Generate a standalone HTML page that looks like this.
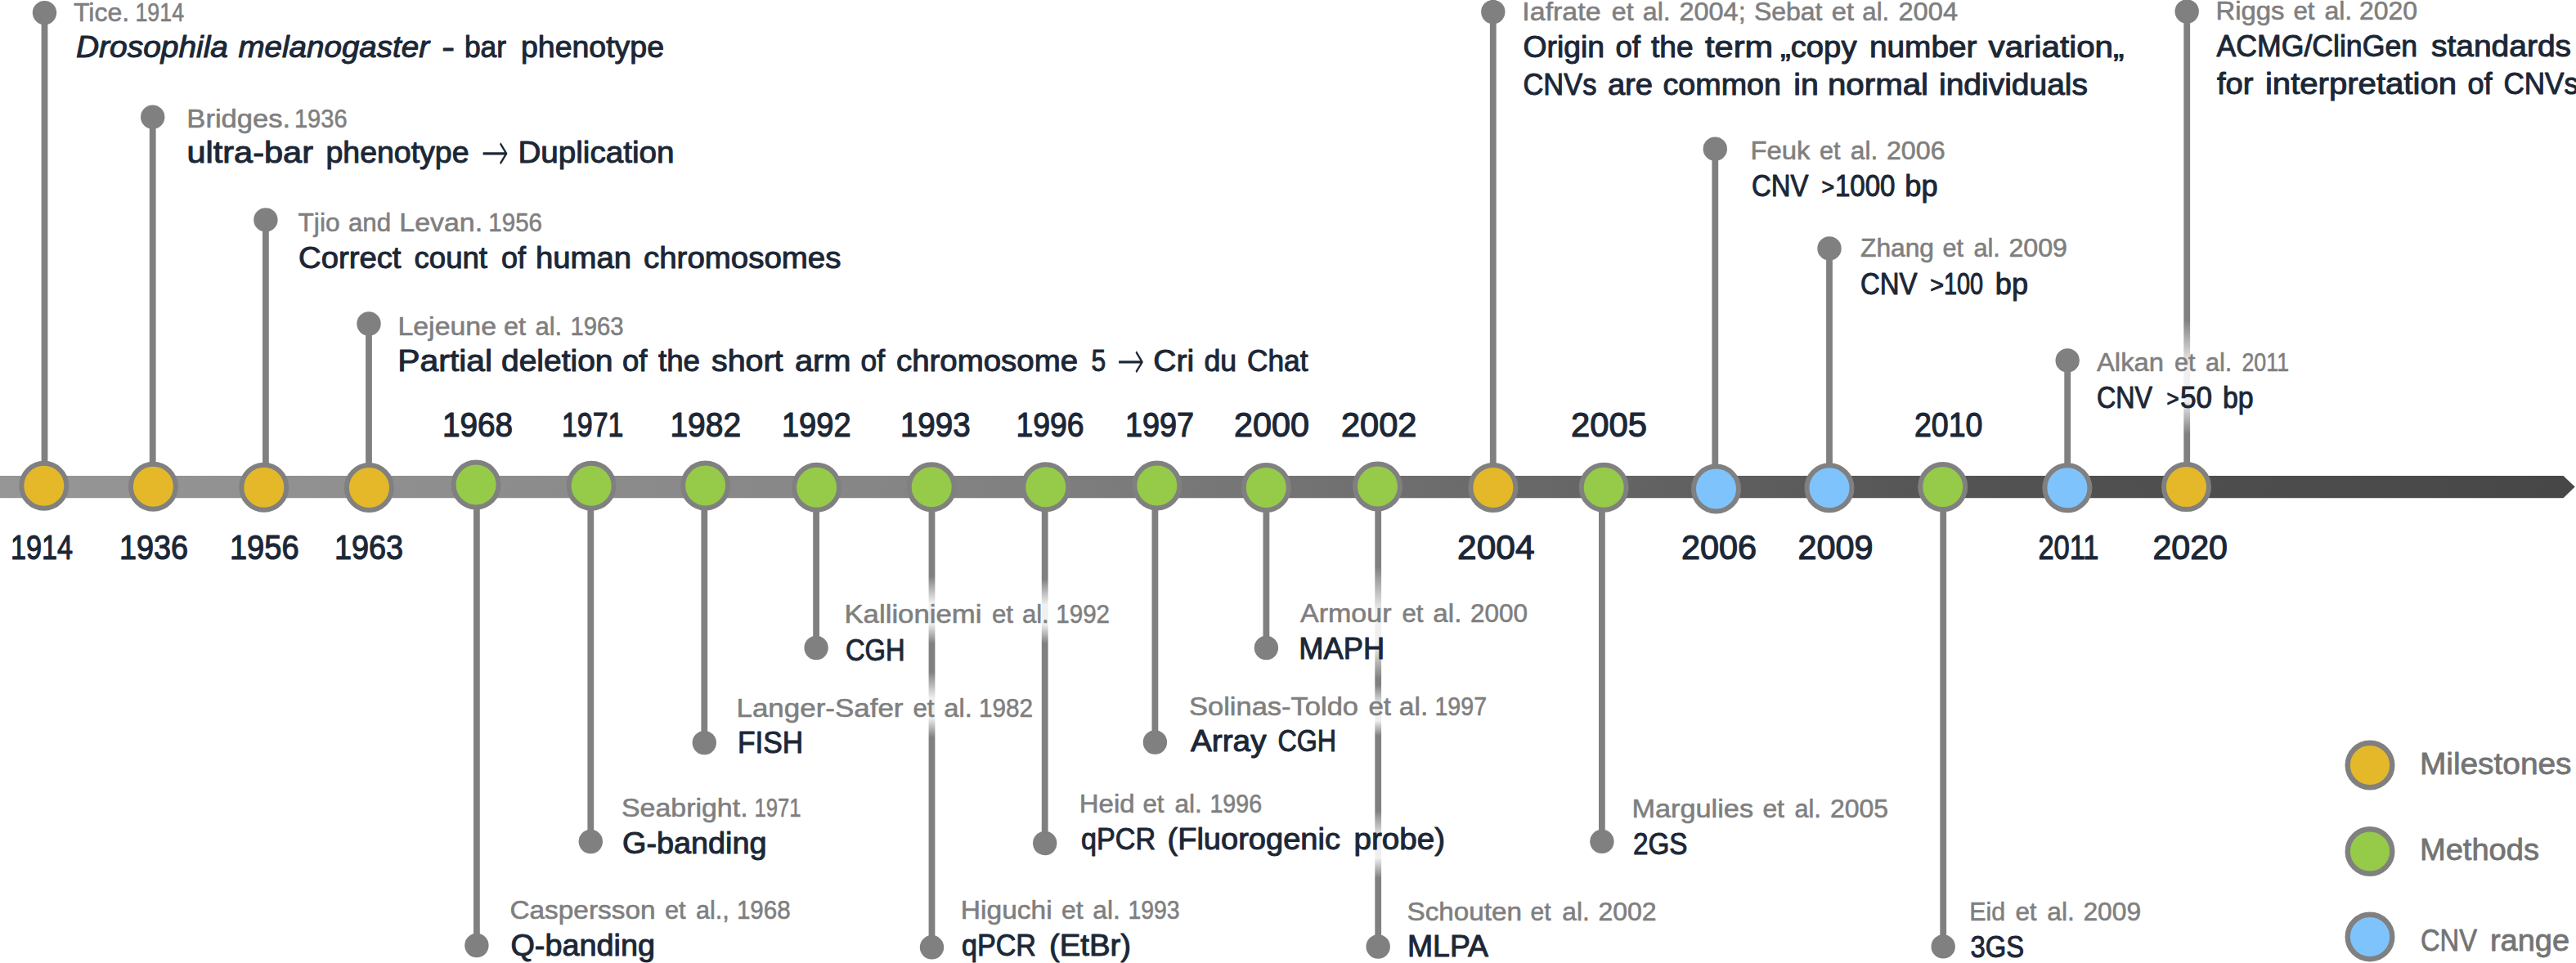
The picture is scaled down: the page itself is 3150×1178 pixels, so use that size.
<!DOCTYPE html>
<html lang="en"><head><meta charset="utf-8"><title>History of CNV research timeline</title>
<style>html,body{margin:0;padding:0;background:#fff;}body{width:3150px;height:1178px;overflow:hidden;}svg{display:block;}text{font-family:"Liberation Sans",sans-serif;}</style>
</head><body>
<svg width="3150" height="1178" viewBox="0 0 3150 1178">
<defs>
<linearGradient id="bar" gradientUnits="userSpaceOnUse" x1="0" y1="0" x2="3150" y2="0"><stop offset="0" stop-color="#969696"/><stop offset="0.34" stop-color="#868686"/><stop offset="0.47" stop-color="#777777"/><stop offset="0.603" stop-color="#676767"/><stop offset="0.778" stop-color="#525252"/><stop offset="0.975" stop-color="#484848"/><stop offset="1" stop-color="#474747"/></linearGradient>
<linearGradient id="fade" x1="0" y1="0" x2="0" y2="1"><stop offset="0" stop-color="#fff" stop-opacity="0"/><stop offset="0.4" stop-color="#fff" stop-opacity="0.88"/><stop offset="0.7" stop-color="#fff" stop-opacity="0.88"/><stop offset="1" stop-color="#fff" stop-opacity="0"/></linearGradient>
</defs>
<rect width="3150" height="1178" fill="#ffffff"/>
<path d="M0 582 H3134.5 L3148.7 595.5 L3134.5 609.2 H0 Z" fill="url(#bar)"/>
<g stroke="#808080" stroke-width="7.8" fill="none">
<line x1="54.5" y1="15.6" x2="54.5" y2="594.3"/>
<line x1="186.7" y1="143.2" x2="186.7" y2="595.2"/>
<line x1="324.9" y1="268.9" x2="324.9" y2="596.2"/>
<line x1="451" y1="396" x2="451" y2="596.5"/>
<line x1="1825.8" y1="14.5" x2="1825.8" y2="596.4"/>
<line x1="2097.3" y1="182.2" x2="2097.3" y2="598"/>
<line x1="2237" y1="303.9" x2="2237" y2="596.8"/>
<line x1="2528.2" y1="440.9" x2="2528.2" y2="596.8"/>
<line x1="2674.2" y1="14" x2="2674.2" y2="595.6"/>
<line x1="582.9" y1="1156.5" x2="582.9" y2="593"/>
<line x1="722.3" y1="1029.5" x2="722.3" y2="594.2"/>
<line x1="861.3" y1="908.6" x2="861.3" y2="594"/>
<line x1="998.1" y1="792.5" x2="998.1" y2="596.2"/>
<line x1="1139.5" y1="1158.8" x2="1139.5" y2="595.8"/>
<line x1="1277.7" y1="1031.5" x2="1277.7" y2="595.8"/>
<line x1="1412.4" y1="908" x2="1412.4" y2="594"/>
<line x1="1548.4" y1="792.5" x2="1548.4" y2="596.4"/>
<line x1="1685.2" y1="1158" x2="1685.2" y2="595"/>
<line x1="1958.9" y1="1029.4" x2="1958.9" y2="596.2"/>
<line x1="2376.2" y1="1157.9" x2="2376.2" y2="595.6"/>
</g>
<rect x="1133.4" y="705" width="12" height="82" fill="url(#fade)"/>
<rect x="1133.4" y="822" width="12" height="80" fill="url(#fade)"/>
<rect x="1271.8" y="708" width="12" height="79" fill="url(#fade)"/>
<rect x="1679.3" y="693" width="12" height="137" fill="url(#fade)"/>
<rect x="1679.3" y="838" width="12" height="62" fill="url(#fade)"/>
<rect x="1679.3" y="992" width="12" height="82" fill="url(#fade)"/>
<rect x="2668.1" y="391" width="12" height="140" fill="url(#fade)"/>
<g fill="#808080">
<circle cx="54.5" cy="15.6" r="14.7"/>
<circle cx="186.7" cy="143.2" r="14.7"/>
<circle cx="324.9" cy="268.9" r="14.7"/>
<circle cx="451" cy="396" r="14.7"/>
<circle cx="1825.8" cy="14.5" r="14.7"/>
<circle cx="2097.3" cy="182.2" r="14.7"/>
<circle cx="2237" cy="303.9" r="14.7"/>
<circle cx="2528.2" cy="440.9" r="14.7"/>
<circle cx="2674.2" cy="14" r="14.7"/>
<circle cx="582.9" cy="1156.5" r="14.7"/>
<circle cx="722.3" cy="1029.5" r="14.7"/>
<circle cx="861.3" cy="908.6" r="14.7"/>
<circle cx="998.1" cy="792.5" r="14.7"/>
<circle cx="1139.5" cy="1158.8" r="14.7"/>
<circle cx="1277.7" cy="1031.5" r="14.7"/>
<circle cx="1412.4" cy="908" r="14.7"/>
<circle cx="1548.4" cy="792.5" r="14.7"/>
<circle cx="1685.2" cy="1158" r="14.7"/>
<circle cx="1958.9" cy="1029.4" r="14.7"/>
<circle cx="2376.2" cy="1157.9" r="14.7"/>
</g>
<circle cx="53.8" cy="594.3" r="27.5" fill="#e5b829" stroke="#808080" stroke-width="6"/>
<circle cx="187.4" cy="595.2" r="27.5" fill="#e5b829" stroke="#808080" stroke-width="6"/>
<circle cx="322.8" cy="596.2" r="27.5" fill="#e5b829" stroke="#808080" stroke-width="6"/>
<circle cx="451.4" cy="596.5" r="27.5" fill="#e5b829" stroke="#808080" stroke-width="6"/>
<circle cx="1825.9" cy="596.4" r="27.5" fill="#e5b829" stroke="#808080" stroke-width="6"/>
<circle cx="2098.5" cy="598" r="27.5" fill="#7fc3fc" stroke="#808080" stroke-width="6"/>
<circle cx="2237" cy="596.8" r="27.5" fill="#7fc3fc" stroke="#808080" stroke-width="6"/>
<circle cx="2527.9" cy="596.8" r="27.5" fill="#7fc3fc" stroke="#808080" stroke-width="6"/>
<circle cx="2673.5" cy="595.6" r="27.5" fill="#e5b829" stroke="#808080" stroke-width="6"/>
<circle cx="582.1" cy="593" r="27.5" fill="#96ca49" stroke="#808080" stroke-width="6"/>
<circle cx="723.1" cy="594.2" r="27.5" fill="#96ca49" stroke="#808080" stroke-width="6"/>
<circle cx="862.6" cy="594" r="27.5" fill="#96ca49" stroke="#808080" stroke-width="6"/>
<circle cx="998.6" cy="596.2" r="27.5" fill="#96ca49" stroke="#808080" stroke-width="6"/>
<circle cx="1139.2" cy="595.8" r="27.5" fill="#96ca49" stroke="#808080" stroke-width="6"/>
<circle cx="1278.8" cy="595.8" r="27.5" fill="#96ca49" stroke="#808080" stroke-width="6"/>
<circle cx="1414.8" cy="594" r="27.5" fill="#96ca49" stroke="#808080" stroke-width="6"/>
<circle cx="1548.3" cy="596.4" r="27.5" fill="#96ca49" stroke="#808080" stroke-width="6"/>
<circle cx="1684.5" cy="595" r="27.5" fill="#96ca49" stroke="#808080" stroke-width="6"/>
<circle cx="1961.2" cy="596.2" r="27.5" fill="#96ca49" stroke="#808080" stroke-width="6"/>
<circle cx="2375.7" cy="595.6" r="27.5" fill="#96ca49" stroke="#808080" stroke-width="6"/>
<circle cx="2898" cy="936" r="27.3" fill="#e5b829" stroke="#808080" stroke-width="6.4"/>
<circle cx="2898" cy="1041.5" r="27.3" fill="#96ca49" stroke="#808080" stroke-width="6.4"/>
<circle cx="2898" cy="1146" r="27.3" fill="#7fc3fc" stroke="#808080" stroke-width="6.4"/>
<text y="684.3" font-size="42.32" fill="#1c2736" stroke="#1c2736" stroke-width="1.2" stroke-linejoin="round"><tspan x="12.95" textLength="76.08" lengthAdjust="spacingAndGlyphs">1914</tspan></text>
<text y="684.3" font-size="42.32" fill="#1c2736" stroke="#1c2736" stroke-width="1.2" stroke-linejoin="round"><tspan x="145.92" textLength="84.12" lengthAdjust="spacingAndGlyphs">1936</tspan></text>
<text y="684.3" font-size="42.32" fill="#1c2736" stroke="#1c2736" stroke-width="1.2" stroke-linejoin="round"><tspan x="280.92" textLength="84.64" lengthAdjust="spacingAndGlyphs">1956</tspan></text>
<text y="684.3" font-size="42.32" fill="#1c2736" stroke="#1c2736" stroke-width="1.2" stroke-linejoin="round"><tspan x="408.92" textLength="84.12" lengthAdjust="spacingAndGlyphs">1963</tspan></text>
<text y="533.8" font-size="42.32" fill="#1c2736" stroke="#1c2736" stroke-width="1.2" stroke-linejoin="round"><tspan x="540.89" textLength="86.17" lengthAdjust="spacingAndGlyphs">1968</tspan></text>
<text y="533.8" font-size="42.32" fill="#1c2736" stroke="#1c2736" stroke-width="1.2" stroke-linejoin="round"><tspan x="686.92" textLength="75.61" lengthAdjust="spacingAndGlyphs">1971</tspan></text>
<text y="533.8" font-size="42.32" fill="#1c2736" stroke="#1c2736" stroke-width="1.2" stroke-linejoin="round"><tspan x="819.41" textLength="86.64" lengthAdjust="spacingAndGlyphs">1982</tspan></text>
<text y="533.8" font-size="42.32" fill="#1c2736" stroke="#1c2736" stroke-width="1.2" stroke-linejoin="round"><tspan x="955.94" textLength="84.65" lengthAdjust="spacingAndGlyphs">1992</tspan></text>
<text y="533.8" font-size="42.32" fill="#1c2736" stroke="#1c2736" stroke-width="1.2" stroke-linejoin="round"><tspan x="1100.88" textLength="85.7" lengthAdjust="spacingAndGlyphs">1993</tspan></text>
<text y="533.8" font-size="42.32" fill="#1c2736" stroke="#1c2736" stroke-width="1.2" stroke-linejoin="round"><tspan x="1242.4" textLength="83.12" lengthAdjust="spacingAndGlyphs">1996</tspan></text>
<text y="533.8" font-size="42.32" fill="#1c2736" stroke="#1c2736" stroke-width="1.2" stroke-linejoin="round"><tspan x="1375.91" textLength="84.16" lengthAdjust="spacingAndGlyphs">1997</tspan></text>
<text y="533.8" font-size="42.32" fill="#1c2736" stroke="#1c2736" stroke-width="1.2" stroke-linejoin="round"><tspan x="1508.98" textLength="92.06" lengthAdjust="spacingAndGlyphs">2000</tspan></text>
<text y="533.8" font-size="42.32" fill="#1c2736" stroke="#1c2736" stroke-width="1.2" stroke-linejoin="round"><tspan x="1639.98" textLength="92.55" lengthAdjust="spacingAndGlyphs">2002</tspan></text>
<text y="684.1" font-size="42.32" fill="#1c2736" stroke="#1c2736" stroke-width="1.2" stroke-linejoin="round"><tspan x="1782.0" textLength="94.53" lengthAdjust="spacingAndGlyphs">2004</tspan></text>
<text y="533.8" font-size="42.32" fill="#1c2736" stroke="#1c2736" stroke-width="1.2" stroke-linejoin="round"><tspan x="1920.99" textLength="93.05" lengthAdjust="spacingAndGlyphs">2005</tspan></text>
<text y="684.1" font-size="42.32" fill="#1c2736" stroke="#1c2736" stroke-width="1.2" stroke-linejoin="round"><tspan x="2055.98" textLength="92.08" lengthAdjust="spacingAndGlyphs">2006</tspan></text>
<text y="684.1" font-size="42.32" fill="#1c2736" stroke="#1c2736" stroke-width="1.2" stroke-linejoin="round"><tspan x="2198.44" textLength="92.1" lengthAdjust="spacingAndGlyphs">2009</tspan></text>
<text y="533.8" font-size="42.32" fill="#1c2736" stroke="#1c2736" stroke-width="1.2" stroke-linejoin="round"><tspan x="2340.95" textLength="83.58" lengthAdjust="spacingAndGlyphs">2010</tspan></text>
<text y="684.1" font-size="42.32" fill="#1c2736" stroke="#1c2736" stroke-width="1.2" stroke-linejoin="round"><tspan x="2492.43" textLength="74.11" lengthAdjust="spacingAndGlyphs">2011</tspan></text>
<text y="684.1" font-size="42.32" fill="#1c2736" stroke="#1c2736" stroke-width="1.2" stroke-linejoin="round"><tspan x="2632.45" textLength="91.59" lengthAdjust="spacingAndGlyphs">2020</tspan></text>
<text y="25.7" font-size="31.98" fill="#7f7f7f" stroke="#7f7f7f" stroke-width="0.6" stroke-linejoin="round"><tspan x="89.96" textLength="68.15" lengthAdjust="spacingAndGlyphs">Tice.</tspan> <tspan x="165.44" textLength="59.61" lengthAdjust="spacingAndGlyphs">1914</tspan></text>
<text y="155.8" font-size="31.98" fill="#7f7f7f" stroke="#7f7f7f" stroke-width="0.6" stroke-linejoin="round"><tspan x="228.39" textLength="126.74" lengthAdjust="spacingAndGlyphs">Bridges.</tspan> <tspan x="359.93" textLength="64.61" lengthAdjust="spacingAndGlyphs">1936</tspan></text>
<text y="283" font-size="31.98" fill="#7f7f7f" stroke="#7f7f7f" stroke-width="0.6" stroke-linejoin="round"><tspan x="364.5" textLength="51.06" lengthAdjust="spacingAndGlyphs">Tjio</tspan> <tspan x="425.88" textLength="52.19" lengthAdjust="spacingAndGlyphs">and</tspan> <tspan x="488.37" textLength="101.75" lengthAdjust="spacingAndGlyphs">Levan.</tspan> <tspan x="597.37" textLength="65.68" lengthAdjust="spacingAndGlyphs">1956</tspan></text>
<text y="410" font-size="31.98" fill="#7f7f7f" stroke="#7f7f7f" stroke-width="0.6" stroke-linejoin="round"><tspan x="486.43" textLength="120.59" lengthAdjust="spacingAndGlyphs">Lejeune</tspan> <tspan x="615.94" textLength="27.06" lengthAdjust="spacingAndGlyphs">et</tspan> <tspan x="654.42" textLength="32.8" lengthAdjust="spacingAndGlyphs">al.</tspan> <tspan x="697.4" textLength="65.17" lengthAdjust="spacingAndGlyphs">1963</tspan></text>
<text y="24.5" font-size="31.98" fill="#7f7f7f" stroke="#7f7f7f" stroke-width="0.6" stroke-linejoin="round"><tspan x="1861.37" textLength="96.18" lengthAdjust="spacingAndGlyphs">Iafrate</tspan> <tspan x="1970.86" textLength="26.69" lengthAdjust="spacingAndGlyphs">et</tspan> <tspan x="2008.83" textLength="33.9" lengthAdjust="spacingAndGlyphs">al.</tspan> <tspan x="2053.43" textLength="81.23" lengthAdjust="spacingAndGlyphs">2004;</tspan> <tspan x="2144.96" textLength="83.54" lengthAdjust="spacingAndGlyphs">Sebat</tspan> <tspan x="2239.87" textLength="27.14" lengthAdjust="spacingAndGlyphs">et</tspan> <tspan x="2277.34" textLength="32.9" lengthAdjust="spacingAndGlyphs">al.</tspan> <tspan x="2321.47" textLength="72.56" lengthAdjust="spacingAndGlyphs">2004</tspan></text>
<text y="194.7" font-size="31.98" fill="#7f7f7f" stroke="#7f7f7f" stroke-width="0.6" stroke-linejoin="round"><tspan x="2140.4" textLength="73.09" lengthAdjust="spacingAndGlyphs">Feuk</tspan> <tspan x="2224.96" textLength="25.53" lengthAdjust="spacingAndGlyphs">et</tspan> <tspan x="2262.87" textLength="33.49" lengthAdjust="spacingAndGlyphs">al.</tspan> <tspan x="2306.93" textLength="71.63" lengthAdjust="spacingAndGlyphs">2006</tspan></text>
<text y="314.3" font-size="31.98" fill="#7f7f7f" stroke="#7f7f7f" stroke-width="0.6" stroke-linejoin="round"><tspan x="2274.99" textLength="90.05" lengthAdjust="spacingAndGlyphs">Zhang</tspan> <tspan x="2375.47" textLength="25.53" lengthAdjust="spacingAndGlyphs">et</tspan> <tspan x="2413.4" textLength="32.35" lengthAdjust="spacingAndGlyphs">al.</tspan> <tspan x="2456.45" textLength="71.58" lengthAdjust="spacingAndGlyphs">2009</tspan></text>
<text y="454.2" font-size="31.98" fill="#7f7f7f" stroke="#7f7f7f" stroke-width="0.6" stroke-linejoin="round"><tspan x="2563.99" textLength="82.06" lengthAdjust="spacingAndGlyphs">Alkan</tspan> <tspan x="2658.96" textLength="25.53" lengthAdjust="spacingAndGlyphs">et</tspan> <tspan x="2696.93" textLength="32.39" lengthAdjust="spacingAndGlyphs">al.</tspan> <tspan x="2741.47" textLength="57.57" lengthAdjust="spacingAndGlyphs">2011</tspan></text>
<text y="24.4" font-size="31.98" fill="#7f7f7f" stroke="#7f7f7f" stroke-width="0.6" stroke-linejoin="round"><tspan x="2709.4" textLength="84.13" lengthAdjust="spacingAndGlyphs">Riggs</tspan> <tspan x="2804.49" textLength="26.06" lengthAdjust="spacingAndGlyphs">et</tspan> <tspan x="2842.4" textLength="33.89" lengthAdjust="spacingAndGlyphs">al.</tspan> <tspan x="2884.94" textLength="71.11" lengthAdjust="spacingAndGlyphs">2020</tspan></text>
<text y="1124.3" font-size="31.98" fill="#7f7f7f" stroke="#7f7f7f" stroke-width="0.6" stroke-linejoin="round"><tspan x="623.46" textLength="178.07" lengthAdjust="spacingAndGlyphs">Caspersson</tspan> <tspan x="812.94" textLength="25.59" lengthAdjust="spacingAndGlyphs">et</tspan> <tspan x="850.9" textLength="40.85" lengthAdjust="spacingAndGlyphs">al.,</tspan> <tspan x="900.89" textLength="65.69" lengthAdjust="spacingAndGlyphs">1968</tspan></text>
<text y="998.8" font-size="31.98" fill="#7f7f7f" stroke="#7f7f7f" stroke-width="0.6" stroke-linejoin="round"><tspan x="759.95" textLength="154.62" lengthAdjust="spacingAndGlyphs">Seabright.</tspan> <tspan x="922.4" textLength="57.19" lengthAdjust="spacingAndGlyphs">1971</tspan></text>
<text y="876.5" font-size="31.98" fill="#7f7f7f" stroke="#7f7f7f" stroke-width="0.6" stroke-linejoin="round"><tspan x="900.47" textLength="204.04" lengthAdjust="spacingAndGlyphs">Langer-Safer</tspan> <tspan x="1116.42" textLength="26.12" lengthAdjust="spacingAndGlyphs">et</tspan> <tspan x="1154.36" textLength="34.46" lengthAdjust="spacingAndGlyphs">al.</tspan> <tspan x="1196.93" textLength="66.15" lengthAdjust="spacingAndGlyphs">1982</tspan></text>
<text y="762" font-size="31.98" fill="#7f7f7f" stroke="#7f7f7f" stroke-width="0.6" stroke-linejoin="round"><tspan x="1032.43" textLength="168.14" lengthAdjust="spacingAndGlyphs">Kallioniemi</tspan> <tspan x="1212.91" textLength="26.1" lengthAdjust="spacingAndGlyphs">et</tspan> <tspan x="1249.88" textLength="32.9" lengthAdjust="spacingAndGlyphs">al.</tspan> <tspan x="1291.37" textLength="65.68" lengthAdjust="spacingAndGlyphs">1992</tspan></text>
<text y="1124.3" font-size="31.98" fill="#7f7f7f" stroke="#7f7f7f" stroke-width="0.6" stroke-linejoin="round"><tspan x="1174.88" textLength="111.71" lengthAdjust="spacingAndGlyphs">Higuchi</tspan> <tspan x="1297.96" textLength="26.54" lengthAdjust="spacingAndGlyphs">et</tspan> <tspan x="1336.32" textLength="33.49" lengthAdjust="spacingAndGlyphs">al.</tspan> <tspan x="1379.42" textLength="63.12" lengthAdjust="spacingAndGlyphs">1993</tspan></text>
<text y="993.9" font-size="31.98" fill="#7f7f7f" stroke="#7f7f7f" stroke-width="0.6" stroke-linejoin="round"><tspan x="1319.8" textLength="67.82" lengthAdjust="spacingAndGlyphs">Heid</tspan> <tspan x="1397.45" textLength="26.04" lengthAdjust="spacingAndGlyphs">et</tspan> <tspan x="1436.43" textLength="33.36" lengthAdjust="spacingAndGlyphs">al.</tspan> <tspan x="1479.41" textLength="63.65" lengthAdjust="spacingAndGlyphs">1996</tspan></text>
<text y="874.5" font-size="31.98" fill="#7f7f7f" stroke="#7f7f7f" stroke-width="0.6" stroke-linejoin="round"><tspan x="1453.97" textLength="207.05" lengthAdjust="spacingAndGlyphs">Solinas-Toldo</tspan> <tspan x="1673.42" textLength="27.6" lengthAdjust="spacingAndGlyphs">et</tspan> <tspan x="1710.86" textLength="35.46" lengthAdjust="spacingAndGlyphs">al.</tspan> <tspan x="1754.41" textLength="63.65" lengthAdjust="spacingAndGlyphs">1997</tspan></text>
<text y="761.2" font-size="31.98" fill="#7f7f7f" stroke="#7f7f7f" stroke-width="0.6" stroke-linejoin="round"><tspan x="1590.0" textLength="111.5" lengthAdjust="spacingAndGlyphs">Armour</tspan> <tspan x="1714.44" textLength="26.06" lengthAdjust="spacingAndGlyphs">et</tspan> <tspan x="1752.32" textLength="35.03" lengthAdjust="spacingAndGlyphs">al.</tspan> <tspan x="1797.94" textLength="70.11" lengthAdjust="spacingAndGlyphs">2000</tspan></text>
<text y="1125.8" font-size="31.98" fill="#7f7f7f" stroke="#7f7f7f" stroke-width="0.6" stroke-linejoin="round"><tspan x="1720.46" textLength="140.61" lengthAdjust="spacingAndGlyphs">Schouten</tspan> <tspan x="1871.48" textLength="25.06" lengthAdjust="spacingAndGlyphs">et</tspan> <tspan x="1910.31" textLength="33.52" lengthAdjust="spacingAndGlyphs">al.</tspan> <tspan x="1954.45" textLength="71.1" lengthAdjust="spacingAndGlyphs">2002</tspan></text>
<text y="1000" font-size="31.98" fill="#7f7f7f" stroke="#7f7f7f" stroke-width="0.6" stroke-linejoin="round"><tspan x="1995.43" textLength="148.61" lengthAdjust="spacingAndGlyphs">Margulies</tspan> <tspan x="2155.42" textLength="26.58" lengthAdjust="spacingAndGlyphs">et</tspan> <tspan x="2194.41" textLength="32.36" lengthAdjust="spacingAndGlyphs">al.</tspan> <tspan x="2237.92" textLength="71.12" lengthAdjust="spacingAndGlyphs">2005</tspan></text>
<text y="1126.2" font-size="31.98" fill="#7f7f7f" stroke="#7f7f7f" stroke-width="0.6" stroke-linejoin="round"><tspan x="2408.32" textLength="43.91" lengthAdjust="spacingAndGlyphs">Eid</tspan> <tspan x="2464.4" textLength="26.12" lengthAdjust="spacingAndGlyphs">et</tspan> <tspan x="2503.31" textLength="33.52" lengthAdjust="spacingAndGlyphs">al.</tspan> <tspan x="2547.44" textLength="70.62" lengthAdjust="spacingAndGlyphs">2009</tspan></text>
<text y="70.3" font-size="36.87" fill="#1c2736" stroke="#1c2736" stroke-width="1.0" stroke-linejoin="round"><tspan x="92.99" textLength="186.03" lengthAdjust="spacingAndGlyphs" font-style="italic">Drosophila</tspan> <tspan x="291.5" textLength="233.52" lengthAdjust="spacingAndGlyphs" font-style="italic">melanogaster</tspan> <tspan x="540.24" textLength="15.67" lengthAdjust="spacingAndGlyphs">-</tspan> <tspan x="567.91" textLength="51.09" lengthAdjust="spacingAndGlyphs">bar</tspan> <tspan x="636.98" textLength="175.06" lengthAdjust="spacingAndGlyphs">phenotype</tspan></text>
<text y="199.4" font-size="36.87" fill="#1c2736" stroke="#1c2736" stroke-width="1.0" stroke-linejoin="round"><tspan x="228.45" textLength="154.55" lengthAdjust="spacingAndGlyphs">ultra-bar</tspan> <tspan x="398.48" textLength="175.06" lengthAdjust="spacingAndGlyphs">phenotype</tspan> <tspan x="588.31" dy="9.6" textLength="33.94" lengthAdjust="spacingAndGlyphs" font-family="DejaVu Sans, sans-serif" font-weight="200" font-size="67" stroke="none">→</tspan> <tspan x="633.45" dy="-9.6" textLength="191.09" lengthAdjust="spacingAndGlyphs">Duplication</tspan></text>
<text y="328" font-size="36.87" fill="#1c2736" stroke="#1c2736" stroke-width="1.0" stroke-linejoin="round"><tspan x="365.0" textLength="125.5" lengthAdjust="spacingAndGlyphs">Correct</tspan> <tspan x="506.49" textLength="89.52" lengthAdjust="spacingAndGlyphs">count</tspan> <tspan x="612.96" textLength="30.01" lengthAdjust="spacingAndGlyphs">of</tspan> <tspan x="654.95" textLength="117.09" lengthAdjust="spacingAndGlyphs">human</tspan> <tspan x="786.99" textLength="241.51" lengthAdjust="spacingAndGlyphs">chromosomes</tspan></text>
<text y="454.3" font-size="36.87" fill="#1c2736" stroke="#1c2736" stroke-width="1.0" stroke-linejoin="round"><tspan x="486.38" textLength="115.73" lengthAdjust="spacingAndGlyphs">Partial</tspan> <tspan x="612.97" textLength="136.59" lengthAdjust="spacingAndGlyphs">deletion</tspan> <tspan x="760.99" textLength="30.51" lengthAdjust="spacingAndGlyphs">of</tspan> <tspan x="805.0" textLength="51.03" lengthAdjust="spacingAndGlyphs">the</tspan> <tspan x="870.0" textLength="87.5" lengthAdjust="spacingAndGlyphs">short</tspan> <tspan x="971.91" textLength="68.69" lengthAdjust="spacingAndGlyphs">arm</tspan> <tspan x="1052.48" textLength="29.51" lengthAdjust="spacingAndGlyphs">of</tspan> <tspan x="1095.99" textLength="222.03" lengthAdjust="spacingAndGlyphs">chromosome</tspan> <tspan x="1334.4" textLength="17.68" lengthAdjust="spacingAndGlyphs">5</tspan> <tspan x="1365.73" dy="9.6" textLength="33.9" lengthAdjust="spacingAndGlyphs" font-family="DejaVu Sans, sans-serif" font-weight="200" font-size="67" stroke="none">→</tspan> <tspan x="1410.39" dy="-9.6" textLength="49.79" lengthAdjust="spacingAndGlyphs">Cri</tspan> <tspan x="1472.45" textLength="39.73" lengthAdjust="spacingAndGlyphs">du</tspan> <tspan x="1524.99" textLength="74.52" lengthAdjust="spacingAndGlyphs">Chat</tspan></text>
<text y="69.8" font-size="36.87" fill="#1c2736" stroke="#1c2736" stroke-width="1.0" stroke-linejoin="round"><tspan x="1862.46" textLength="99.6" lengthAdjust="spacingAndGlyphs">Origin</tspan> <tspan x="1975.45" textLength="30.54" lengthAdjust="spacingAndGlyphs">of</tspan> <tspan x="2019.0" textLength="51.54" lengthAdjust="spacingAndGlyphs">the</tspan> <tspan x="2085.0" textLength="83.06" lengthAdjust="spacingAndGlyphs">term</tspan> <tspan x="2177.0" textLength="93.51" lengthAdjust="spacingAndGlyphs">„copy</tspan> <tspan x="2285.97" textLength="131.53" lengthAdjust="spacingAndGlyphs">number</tspan> <tspan x="2431.5" textLength="166.0" lengthAdjust="spacingAndGlyphs">variation„</tspan></text>
<text y="115.6" font-size="36.87" fill="#1c2736" stroke="#1c2736" stroke-width="1.0" stroke-linejoin="round"><tspan x="1862.46" textLength="90.06" lengthAdjust="spacingAndGlyphs">CNVs</tspan> <tspan x="1965.91" textLength="55.15" lengthAdjust="spacingAndGlyphs">are</tspan> <tspan x="2033.48" textLength="144.55" lengthAdjust="spacingAndGlyphs">common</tspan> <tspan x="2193.2" textLength="30.55" lengthAdjust="spacingAndGlyphs">in</tspan> <tspan x="2234.93" textLength="123.14" lengthAdjust="spacingAndGlyphs">normal</tspan> <tspan x="2370.97" textLength="182.05" lengthAdjust="spacingAndGlyphs">individuals</tspan></text>
<text y="239.9" font-size="36.87" fill="#1c2736" stroke="#1c2736" stroke-width="1.0" stroke-linejoin="round"><tspan x="2141.99" textLength="69.51" lengthAdjust="spacingAndGlyphs">CNV</tspan> <tspan x="2227.42" dy="-2.0" textLength="15.65" lengthAdjust="spacingAndGlyphs" font-size="28">&gt;</tspan><tspan x="2243.9" dy="2.0" textLength="73.63" lengthAdjust="spacingAndGlyphs">1000</tspan> <tspan x="2329.33" textLength="40.21" lengthAdjust="spacingAndGlyphs">bp</tspan></text>
<text y="359.5" font-size="36.87" fill="#1c2736" stroke="#1c2736" stroke-width="1.0" stroke-linejoin="round"><tspan x="2274.97" textLength="69.52" lengthAdjust="spacingAndGlyphs">CNV</tspan> <tspan x="2360.38" dy="-2.0" textLength="16.76" lengthAdjust="spacingAndGlyphs" font-size="28">&gt;</tspan><tspan x="2376.92" dy="2.0" textLength="48.1" lengthAdjust="spacingAndGlyphs">100</tspan> <tspan x="2439.85" textLength="40.19" lengthAdjust="spacingAndGlyphs">bp</tspan></text>
<text y="499.2" font-size="36.87" fill="#1c2736" stroke="#1c2736" stroke-width="1.0" stroke-linejoin="round"><tspan x="2563.98" textLength="68.03" lengthAdjust="spacingAndGlyphs">CNV</tspan> <tspan x="2649.46" dy="-2.0" textLength="15.1" lengthAdjust="spacingAndGlyphs" font-size="28">&gt;</tspan><tspan x="2665.98" dy="2.0" textLength="39.06" lengthAdjust="spacingAndGlyphs">50</tspan> <tspan x="2717.9" textLength="37.66" lengthAdjust="spacingAndGlyphs">bp</tspan></text>
<text y="69.3" font-size="36.87" fill="#1c2736" stroke="#1c2736" stroke-width="1.0" stroke-linejoin="round"><tspan x="2710.5" textLength="245.52" lengthAdjust="spacingAndGlyphs">ACMG/ClinGen</tspan> <tspan x="2972.99" textLength="171.03" lengthAdjust="spacingAndGlyphs">standards</tspan></text>
<text y="115.1" font-size="36.87" fill="#1c2736" stroke="#1c2736" stroke-width="1.0" stroke-linejoin="round"><tspan x="2710.99" textLength="44.52" lengthAdjust="spacingAndGlyphs">for</tspan> <tspan x="2769.95" textLength="234.06" lengthAdjust="spacingAndGlyphs">interpretation</tspan> <tspan x="3017.48" textLength="30.05" lengthAdjust="spacingAndGlyphs">of</tspan> <tspan x="3061.48" textLength="91.57" lengthAdjust="spacingAndGlyphs">CNVs</tspan></text>
<text y="1168.9" font-size="36.87" fill="#1c2736" stroke="#1c2736" stroke-width="1.0" stroke-linejoin="round"><tspan x="624.48" textLength="176.54" lengthAdjust="spacingAndGlyphs">Q-banding</tspan></text>
<text y="1043.5" font-size="36.87" fill="#1c2736" stroke="#1c2736" stroke-width="1.0" stroke-linejoin="round"><tspan x="760.97" textLength="176.57" lengthAdjust="spacingAndGlyphs">G-banding</tspan></text>
<text y="921.4" font-size="36.87" fill="#1c2736" stroke="#1c2736" stroke-width="1.0" stroke-linejoin="round"><tspan x="901.89" textLength="80.22" lengthAdjust="spacingAndGlyphs">FISH</tspan></text>
<text y="807.6" font-size="36.87" fill="#1c2736" stroke="#1c2736" stroke-width="1.0" stroke-linejoin="round"><tspan x="1033.95" textLength="72.65" lengthAdjust="spacingAndGlyphs">CGH</tspan></text>
<text y="1168.9" font-size="36.87" fill="#1c2736" stroke="#1c2736" stroke-width="1.0" stroke-linejoin="round"><tspan x="1175.98" textLength="91.06" lengthAdjust="spacingAndGlyphs">qPCR</tspan> <tspan x="1282.95" textLength="100.14" lengthAdjust="spacingAndGlyphs">(EtBr)</tspan></text>
<text y="1039.4" font-size="36.87" fill="#1c2736" stroke="#1c2736" stroke-width="1.0" stroke-linejoin="round"><tspan x="1321.99" textLength="91.05" lengthAdjust="spacingAndGlyphs">qPCR</tspan> <tspan x="1427.47" textLength="211.53" lengthAdjust="spacingAndGlyphs">(Fluorogenic</tspan> <tspan x="1655.45" textLength="111.64" lengthAdjust="spacingAndGlyphs">probe)</tspan></text>
<text y="919.3" font-size="36.87" fill="#1c2736" stroke="#1c2736" stroke-width="1.0" stroke-linejoin="round"><tspan x="1455.99" textLength="92.52" lengthAdjust="spacingAndGlyphs">Array</tspan> <tspan x="1562.48" textLength="71.63" lengthAdjust="spacingAndGlyphs">CGH</tspan></text>
<text y="806.3" font-size="36.87" fill="#1c2736" stroke="#1c2736" stroke-width="1.0" stroke-linejoin="round"><tspan x="1588.37" textLength="104.75" lengthAdjust="spacingAndGlyphs">MAPH</tspan></text>
<text y="1170.4" font-size="36.87" fill="#1c2736" stroke="#1c2736" stroke-width="1.0" stroke-linejoin="round"><tspan x="1720.96" textLength="99.04" lengthAdjust="spacingAndGlyphs">MLPA</tspan></text>
<text y="1045" font-size="36.87" fill="#1c2736" stroke="#1c2736" stroke-width="1.0" stroke-linejoin="round"><tspan x="1996.97" textLength="66.56" lengthAdjust="spacingAndGlyphs">2GS</tspan></text>
<text y="1171.2" font-size="36.87" fill="#1c2736" stroke="#1c2736" stroke-width="1.0" stroke-linejoin="round"><tspan x="2409.47" textLength="65.55" lengthAdjust="spacingAndGlyphs">3GS</tspan></text>
<text y="946.8" font-size="36.87" fill="#747474" stroke="#747474" stroke-width="0.8" stroke-linejoin="round"><tspan x="2958.94" textLength="185.57" lengthAdjust="spacingAndGlyphs">Milestones</tspan></text>
<text y="1052.4" font-size="36.87" fill="#747474" stroke="#747474" stroke-width="0.8" stroke-linejoin="round"><tspan x="2958.95" textLength="146.09" lengthAdjust="spacingAndGlyphs">Methods</tspan></text>
<text y="1162.6" font-size="36.87" fill="#747474" stroke="#747474" stroke-width="0.8" stroke-linejoin="round"><tspan x="2959.95" textLength="69.04" lengthAdjust="spacingAndGlyphs">CNV</tspan> <tspan x="3044.9" textLength="97.13" lengthAdjust="spacingAndGlyphs">range</tspan></text>
</svg>
</body></html>
